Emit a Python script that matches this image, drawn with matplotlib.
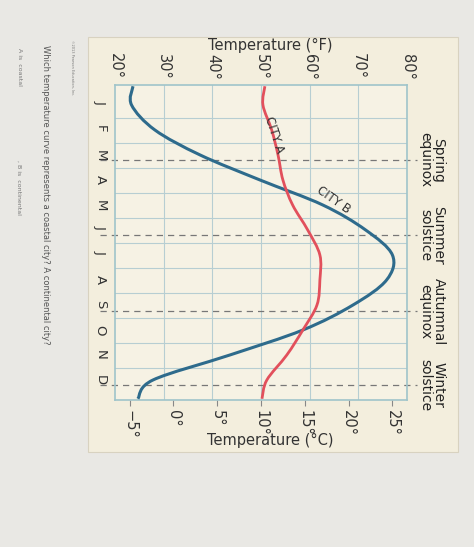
import matplotlib.pyplot as plt
from matplotlib.patches import Rectangle, PathPatch
from matplotlib.path import Path

# month position: 0 = mid-January ... 11 = mid-December; edges at -0.75 / 11.75
month_pos = [-0.75, 0, 1, 2, 3, 4, 5, 6, 7, 8, 9, 10, 11, 11.75]
city_b_f = [23.7, 23.4, 28.2, 37.5, 49.8, 62.7, 71.5, 77.0, 75.8, 68.9, 58.6, 43.6, 27.8, 24.7]
city_a_f = [50.8, 50.4, 52.2, 53.5, 54.5, 56.5, 59.6, 62.1, 62.1, 61.5, 58.6, 55.3, 51.2, 50.2]
month_labels = ["J", "F", "M", "A", "M", "J", "J", "A", "S", "O", "N", "D"]
f_ticks = [20, 30, 40, 50, 60, 70, 80]
c_ticks = [-5, 0, 5, 10, 15, 20, 25]
events = [("Spring\nequinox", 2.2), ("Summer\nsolstice", 5.2),
          ("Autumnal\nequinox", 8.25), ("Winter\nsolstice", 11.2)]


def smooth_path(xs, ys):
    # Catmull-Rom style bezier through the data points (drawing only)
    pts = list(zip(xs, ys))
    verts = [pts[0]]
    codes = [Path.MOVETO]
    for i in range(len(pts) - 1):
        p0 = pts[i - 1] if i > 0 else pts[i]
        p1, p2 = pts[i], pts[i + 1]
        p3 = pts[i + 2] if i + 2 < len(pts) else p2
        c1 = (p1[0] + (p2[0] - p0[0]) / 6, p1[1] + (p2[1] - p0[1]) / 6)
        c2 = (p2[0] - (p3[0] - p1[0]) / 6, p2[1] - (p3[1] - p1[1]) / 6)
        verts += [c1, c2, p2]
        codes += [Path.CURVE4] * 3
    return Path(verts, codes)


W, H = 474, 547
fig = plt.figure(figsize=(W / 100, H / 100), dpi=100)
fig.patch.set_facecolor("#e9e8e4")
fig.add_artist(Rectangle((88 / W, 1 - 452 / H), 370 / W, 415 / H, transform=fig.transFigure,
                         facecolor="#f3eedd", edgecolor="#d8d2c0", lw=0.8, zorder=0))

ax = fig.add_axes([115 / W, 1 - 400 / H, 292 / W, 315 / H])
ax.set_facecolor("#f6f2e4")
ax.set_xlim(20, 80)
ax.set_ylim(11.8, -0.8)

grid_c = "#b7ced2"
for f in f_ticks[1:-1]:
    ax.axvline(f, color=grid_c, lw=0.8, zorder=1)
for k in range(11):
    ax.axhline(k + 0.5, color=grid_c, lw=0.8, zorder=1)
for s in ax.spines.values():
    s.set_color("#9fc4ca")
    s.set_linewidth(1.2)

for _, pos in events:
    ax.plot([17, 82], [pos, pos], ls=(0, (5, 4)), color="#777777", lw=0.9, clip_on=False, zorder=2)

ax.add_patch(PathPatch(smooth_path(city_b_f, month_pos), fill=False, edgecolor="#2e6b8c", lw=2.2, zorder=3))
ax.add_patch(PathPatch(smooth_path(city_a_f, month_pos), fill=False, edgecolor="#e2505c", lw=2.0, zorder=3))

ax.text(52.8, 1.2, "CITY A", rotation=-72, fontsize=8.5, ha="center", va="center", color="#333333")
ax.text(65, 3.8, "CITY B", rotation=-35, fontsize=8.5, ha="center", va="center", color="#333333")

# Fahrenheit on top
ax.xaxis.tick_top()
ax.set_xticks(f_ticks)
ax.set_xticklabels([f"{f}°" for f in f_ticks], rotation=-90, fontsize=10.5, color="#333333")
ax.tick_params(axis="x", length=0, pad=4)
ax.set_yticks(range(12))
ax.set_yticklabels(month_labels, rotation=-90, fontsize=9.5, color="#333333")
ax.tick_params(axis="y", length=0, pad=6)

sec = ax.secondary_xaxis("bottom", functions=(lambda f: (f - 32) * 5 / 9, lambda c: c * 9 / 5 + 32))
sec.set_xticks(c_ticks)
sec.set_xticklabels([f"{c}°".replace("-", "−") for c in c_ticks], rotation=-90, fontsize=10.5, color="#333333")
sec.tick_params(length=4, color="#888888", pad=3)
sec.spines["bottom"].set_visible(False)

fig.text(270 / W, 1 - 45 / H, "Temperature (°F)", ha="center", va="center", fontsize=10.5, color="#333333")
fig.text(270 / W, 1 - 440 / H, "Temperature (°C)", ha="center", va="center", fontsize=10.5, color="#333333")

for label, pos in events:
    y = 1 - (105 + pos * 25) / H
    fig.text(432 / W, y, label, rotation=-90, ha="center", va="center", fontsize=10, color="#222222",
             linespacing=0.9)

fig.text(45 / W, 1 - 45 / H, "Which temperature curve represents a coastal city? A continental city?",
         rotation=-90, ha="center", va="top", fontsize=6, color="#555555")
fig.text(72 / W, 1 - 40 / H, "©2013 Pearson Education, Inc.", rotation=-90, ha="center", va="top",
         fontsize=2.5, color="#777777")
fig.text(19 / W, 1 - 48 / H, "A is  coastal", rotation=-90, ha="center", va="top", fontsize=4.5, color="#777777")
fig.text(19 / W, 1 - 160 / H, ", B is  continental", rotation=-90, ha="center", va="top", fontsize=4.5,
         color="#777777")

fig.savefig("out.png", dpi=100, facecolor=fig.get_facecolor())
